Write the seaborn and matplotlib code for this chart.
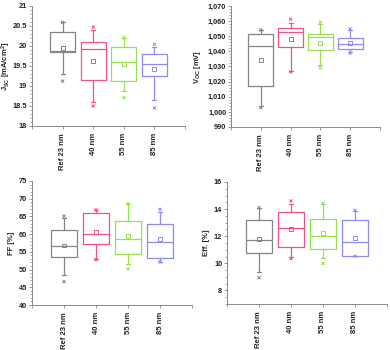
import matplotlib
matplotlib.use("Agg")
import matplotlib.pyplot as plt
import matplotlib.ticker as mticker
import numpy as np
import pandas as pd
import seaborn as sns

groups = ["Ref 23 nm", "40 nm", "55 nm", "85 nm"]
colors = ["#858585", "#f0508e", "#96e050", "#8c8cf0"]

# Jsc [mA/cm2]
jsc_q1 = [19.84, 19.14, 19.13, 19.25]
jsc_med = [19.87, 19.92, 19.59, 19.55]
jsc_q3 = [20.36, 20.11, 19.97, 19.80]
jsc_lo = [19.30, 18.59, 18.87, 18.64]
jsc_hi = [20.59, 20.40, 20.21, 19.98]
jsc_mean = [19.96, 19.63, 19.54, 19.43]
jsc_min = [19.12, 18.50, 18.71, 18.45]
jsc_max = [20.59, 20.47, 20.21, 20.04]

# Voc [mV]
voc_q1 = [1016.9, 1042.7, 1040.9, 1041.6]
voc_med = [1043.6, 1052.8, 1049.3, 1045.1]
voc_q3 = [1051.7, 1055.7, 1051.5, 1049.1]
voc_lo = [1004.1, 1027.0, 1031.0, 1039.4]
voc_hi = [1053.9, 1058.5, 1058.1, 1054.4]
voc_mean = [1034.3, 1048.0, 1045.8, 1045.6]
voc_min = [1002.8, 1026.4, 1029.2, 1038.8]
voc_max = [1054.2, 1061.2, 1059.2, 1054.8]

# FF [%]
ff_q1 = [53.6, 57.1, 54.5, 53.4]
ff_med = [56.7, 60.1, 58.7, 57.7]
ff_q3 = [61.3, 66.1, 63.7, 63.0]
ff_lo = [48.4, 53.0, 51.7, 52.2]
ff_hi = [64.6, 66.7, 68.4, 66.2]
ff_mean = [56.8, 60.6, 59.5, 58.5]
ff_min = [46.6, 52.8, 50.2, 52.2]
ff_max = [65.1, 66.9, 68.6, 67.0]

# Eff [%]
eff_q1 = [10.78, 11.23, 11.03, 10.53]
eff_med = [11.73, 12.62, 12.02, 11.60]
eff_q3 = [13.19, 13.81, 13.27, 13.19]
eff_lo = [9.34, 10.46, 10.36, 10.53]
eff_hi = [14.06, 14.41, 14.41, 13.84]
eff_mean = [11.78, 12.52, 12.22, 11.90]
eff_min = [8.94, 10.34, 9.99, 10.53]
eff_max = [14.10, 14.60, 14.41, 13.91]

sns.set_theme(style="ticks")
plt.rcParams["font.family"] = ["Liberation Sans", "DejaVu Sans"]
plt.rcParams["font.weight"] = "bold"
plt.rcParams["mathtext.fontset"] = "custom"
plt.rcParams["mathtext.rm"] = "Liberation Sans:bold"
plt.rcParams["mathtext.it"] = "Liberation Sans:bold"
plt.rcParams["mathtext.bf"] = "Liberation Sans:bold"

fig = plt.figure(figsize=(3.9, 3.5), dpi=100)
W, H = 390, 350


def place(l, r, t, b):
    return fig.add_axes([l / W, 1 - b / H, (r - l) / W, (b - t) / H])


def panel(ax, q1, med, q3, lo, hi, mean, vmin, vmax, ylabel, ylim, major, minor_n, fmt, lab_off):
    stats = []
    for i in range(len(groups)):
        stats.append(dict(q1=q1[i], med=med[i], q3=q3[i], whislo=lo[i], whishi=hi[i],
                          mean=mean[i], fliers=[], label=groups[i]))
    pos = np.arange(1, len(groups) + 1)
    bp = ax.bxp(stats, positions=pos, widths=0.83, capwidths=0.13,
                showfliers=False, showmeans=False, patch_artist=False)
    for i, c in enumerate(colors):
        for k in ["boxes", "medians"]:
            bp[k][i].set(color=c, linewidth=0.9)
        for k in ["whiskers", "caps"]:
            for art in bp[k][2 * i:2 * i + 2]:
                art.set(color=c, linewidth=0.9)
    dm = pd.DataFrame({"x": pos, "y": mean, "g": groups})
    sns.scatterplot(data=dm, x="x", y="y", hue="g", palette=colors, marker="s",
                    s=8, linewidth=0.7, legend=False, ax=ax)
    sc = ax.collections[-1]
    sc.set_edgecolor(sc.get_facecolor())
    sc.set_facecolor("none")
    de = pd.DataFrame({"x": np.concatenate([pos, pos]),
                       "y": np.concatenate([vmin, vmax]),
                       "g": groups + groups})
    sns.scatterplot(data=de, x="x", y="y", hue="g", palette=colors, marker="x",
                    s=5, linewidth=0.7, legend=False, ax=ax)
    ax.set_xlim(0, 5)
    ax.set_ylim(*ylim)
    ax.set_xticks(range(0, 6))
    ax.set_xticklabels([""] + groups + [""], rotation=90, fontsize=5.5, fontweight="bold")
    ax.yaxis.set_major_locator(mticker.MultipleLocator(major))
    ax.yaxis.set_minor_locator(mticker.AutoMinorLocator(minor_n))
    ax.yaxis.set_major_formatter(fmt)
    ax.tick_params(axis="y", labelsize=5.3, length=2.5, width=0.6, pad=1, colors="#888888",
                   labelcolor="#222222")
    ax.tick_params(axis="y", which="minor", length=1.5, width=0.5, colors="#888888")
    ax.tick_params(axis="x", length=2, width=0.6, pad=3, colors="#888888", labelcolor="#222222")
    for lbl in ax.get_yticklabels():
        lbl.set_fontweight("bold")
    ax.set_xlabel("")
    ax.set_ylabel(ylabel, fontsize=5.5, fontweight="bold")
    width_px = ax.get_position().width * W
    ax.yaxis.set_label_coords(-lab_off / width_px, 0.5)
    for s in ["left", "bottom"]:
        ax.spines[s].set_color("#888888")
        ax.spines[s].set_linewidth(0.7)
    sns.despine(ax=ax)


def num_fmt(v, p):
    return f"{v:g}"


def comma_fmt(v, p):
    return f"{int(round(v)):,}"


ax1 = place(32, 185, 6, 126)
panel(ax1, jsc_q1, jsc_med, jsc_q3, jsc_lo, jsc_hi, jsc_mean, jsc_min, jsc_max,
      r"J$_{SC}$ [mA/cm$^2$]", (18, 21), 0.5, 5, mticker.FuncFormatter(num_fmt), 19)

ax2 = place(231, 380, 6, 127)
panel(ax2, voc_q1, voc_med, voc_q3, voc_lo, voc_hi, voc_mean, voc_min, voc_max,
      r"V$_{OC}$ [mV]", (990, 1070), 10, 5, mticker.FuncFormatter(comma_fmt), 28)

ax3 = place(32, 192, 181, 305)
panel(ax3, ff_q1, ff_med, ff_q3, ff_lo, ff_hi, ff_mean, ff_min, ff_max,
      "FF [%]", (40, 75), 5, 5, mticker.FuncFormatter(num_fmt), 17)

ax4 = place(227, 387, 182, 304)
panel(ax4, eff_q1, eff_med, eff_q3, eff_lo, eff_hi, eff_mean, eff_min, eff_max,
      "Eff. [%]", (7, 16), 2, 4, mticker.FuncFormatter(num_fmt), 17)
ax4.set_yticks([8, 10, 12, 14, 16])

fig.savefig("out.png", dpi=100)
